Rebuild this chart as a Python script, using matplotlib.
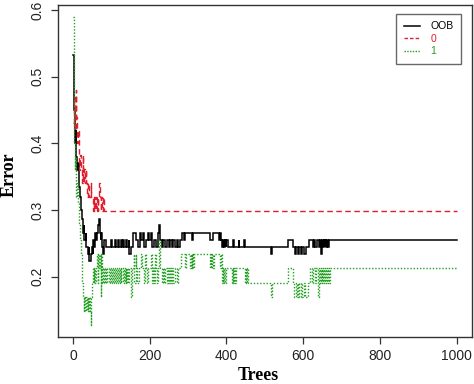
import matplotlib
matplotlib.use("Agg")
import matplotlib.pyplot as plt
from matplotlib.lines import Line2D

# ---- data: step runs (tree where a level starts, error level) ----
oob_trees = [1, 2, 3, 5, 7, 9, 11, 13, 15, 18, 21, 23, 25, 28, 30, 33, 35, 38, 41, 43,
             46, 49, 51, 53, 56, 58, 61, 63, 65, 68, 70, 72, 74, 76, 78, 80, 85, 100, 103, 110,
             112, 118, 120, 125, 127, 131, 133, 137, 140, 145, 147, 152, 157, 165, 170, 175, 178, 182, 186, 190,
             195, 198, 203, 207, 212, 217, 222, 225, 228, 232, 235, 240, 244, 250, 254, 258, 262, 265, 270, 275,
             279, 283, 290, 292, 300, 302, 310, 314, 357, 366, 380, 383, 386, 389, 391, 393, 395, 398, 400, 403,
             418, 421, 432, 434, 447, 449, 515, 519, 560, 573, 578, 581, 586, 590, 594, 598, 603, 608, 616, 625,
             628, 632, 636, 640, 643, 647, 649, 652, 654, 656, 658, 660, 662, 664, 667, 1000]
oob_err = [0.532, 0.50, 0.45, 0.40, 0.42, 0.38, 0.36, 0.37, 0.335, 0.32, 0.30, 0.287, 0.266, 0.277, 0.255, 0.266, 0.245, 0.234, 0.245, 0.223,
           0.234, 0.245, 0.234, 0.255, 0.245, 0.266, 0.255, 0.266, 0.277, 0.287, 0.266, 0.255, 0.266, 0.245, 0.234, 0.255, 0.245, 0.255, 0.245, 0.255,
           0.245, 0.255, 0.245, 0.255, 0.245, 0.255, 0.245, 0.255, 0.245, 0.255, 0.234, 0.245, 0.266, 0.255, 0.245, 0.266, 0.255, 0.266, 0.245, 0.255,
           0.266, 0.255, 0.266, 0.245, 0.255, 0.245, 0.266, 0.277, 0.255, 0.245, 0.255, 0.245, 0.255, 0.245, 0.255, 0.245, 0.255, 0.245, 0.255, 0.245,
           0.255, 0.266, 0.255, 0.266, 0.266, 0.266, 0.255, 0.266, 0.255, 0.266, 0.255, 0.266, 0.255, 0.245, 0.255, 0.245, 0.255, 0.245, 0.255, 0.245,
           0.255, 0.245, 0.255, 0.245, 0.255, 0.245, 0.234, 0.245, 0.255, 0.245, 0.234, 0.245, 0.234, 0.245, 0.234, 0.245, 0.234, 0.245, 0.255, 0.245,
           0.255, 0.245, 0.255, 0.245, 0.255, 0.234, 0.255, 0.245, 0.255, 0.245, 0.255, 0.245, 0.255, 0.245, 0.255, 0.255]

c0_trees = [1, 3, 5, 7, 9, 11, 13, 15, 17, 19, 21, 23, 25, 27, 29, 31, 33, 35, 37, 40,
            43, 46, 48, 52, 54, 56, 58, 60, 62, 64, 66, 68, 70, 72, 74, 76, 78, 80, 1000]
c0_err = [0.43, 0.47, 0.42, 0.48, 0.44, 0.40, 0.42, 0.38, 0.36, 0.383, 0.362, 0.34, 0.383, 0.34, 0.362, 0.34, 0.362, 0.34, 0.319, 0.34,
          0.319, 0.34, 0.319, 0.298, 0.319, 0.298, 0.319, 0.298, 0.319, 0.298, 0.319, 0.340, 0.319, 0.298, 0.319, 0.298, 0.319, 0.298, 0.298]

c1_trees = [1, 2, 3, 4, 5, 6, 7, 9, 11, 13, 15, 17, 19, 21, 23, 24, 26, 28, 30, 32,
            34, 36, 38, 40, 42, 44, 46, 48, 50, 52, 54, 56, 58, 60, 62, 64, 66, 68, 70, 72,
            74, 76, 78, 80, 83, 86, 88, 95, 97, 100, 102, 105, 107, 110, 112, 116, 118, 120, 122, 124,
            126, 130, 132, 135, 137, 139, 141, 143, 145, 150, 155, 158, 160, 163, 165, 168, 171, 178, 180, 185,
            188, 190, 193, 196, 203, 205, 208, 211, 214, 216, 219, 222, 225, 228, 232, 235, 238, 241, 244, 247,
            250, 253, 256, 259, 262, 265, 270, 273, 282, 293, 295, 305, 307, 309, 311, 313, 316, 357, 359, 361,
            363, 365, 368, 383, 385, 388, 390, 392, 394, 396, 398, 414, 416, 418, 420, 422, 424, 448, 450, 452,
            454, 456, 515, 519, 560, 573, 576, 580, 583, 587, 590, 594, 597, 603, 606, 612, 618, 622, 626, 630,
            634, 638, 641, 644, 646, 648, 650, 652, 655, 657, 660, 662, 664, 667, 669, 1000]
c1_err = [0.59, 0.52, 0.45, 0.40, 0.36, 0.38, 0.34, 0.32, 0.34, 0.31, 0.30, 0.28, 0.255, 0.234, 0.213, 0.191, 0.170, 0.149, 0.170, 0.149,
          0.170, 0.149, 0.170, 0.149, 0.170, 0.149, 0.128, 0.170, 0.191, 0.213, 0.191, 0.213, 0.191, 0.213, 0.234, 0.191, 0.234, 0.213, 0.234, 0.170,
          0.234, 0.191, 0.213, 0.191, 0.213, 0.191, 0.213, 0.191, 0.213, 0.191, 0.213, 0.191, 0.213, 0.191, 0.213, 0.191, 0.213, 0.191, 0.213, 0.191,
          0.213, 0.191, 0.213, 0.191, 0.213, 0.191, 0.213, 0.191, 0.213, 0.170, 0.213, 0.234, 0.191, 0.234, 0.213, 0.191, 0.213, 0.234, 0.213, 0.191,
          0.234, 0.213, 0.191, 0.213, 0.234, 0.191, 0.213, 0.191, 0.234, 0.213, 0.191, 0.213, 0.255, 0.213, 0.191, 0.213, 0.191, 0.213, 0.191, 0.213,
          0.191, 0.213, 0.191, 0.213, 0.191, 0.213, 0.191, 0.213, 0.234, 0.213, 0.234, 0.213, 0.234, 0.213, 0.234, 0.213, 0.234, 0.213, 0.234, 0.213,
          0.234, 0.213, 0.234, 0.213, 0.234, 0.191, 0.213, 0.191, 0.213, 0.191, 0.213, 0.191, 0.213, 0.191, 0.213, 0.191, 0.213, 0.191, 0.213, 0.191,
          0.213, 0.191, 0.170, 0.191, 0.213, 0.191, 0.170, 0.191, 0.170, 0.191, 0.170, 0.191, 0.170, 0.191, 0.170, 0.191, 0.213, 0.191, 0.213, 0.191,
          0.213, 0.170, 0.213, 0.191, 0.213, 0.191, 0.213, 0.191, 0.213, 0.191, 0.213, 0.191, 0.213, 0.191, 0.213, 0.213]

series_labels = ["OOB", "0", "1"]
x_ticks = [0, 200, 400, 600, 800, 1000]
y_ticks = [0.2, 0.3, 0.4, 0.5, 0.6]

# ---- figure ----
W, H = 474, 384
fig = plt.figure(figsize=(W / 100, H / 100), dpi=100)
L, R, T, B = 58, 472, 5, 337
ax = fig.add_axes([L / W, (H - B) / H, (R - L) / W, (B - T) / H])

black, red, green = "#000000", "#DF1F2F", "#22A022"
ax.step(oob_trees, oob_err, where="post", color=black, lw=1.1, solid_joinstyle="miter")
ax.step(c0_trees, c0_err, where="post", color=red, lw=1.0, linestyle=(0, (4.0, 2.5)))
ax.step(c1_trees, c1_err, where="post", color=green, lw=1.0, linestyle=(0, (1.0, 1.3)))

ax.set_xlim(-39, 1040)
ax.set_ylim(0.1095, 0.6075)
ax.set_xticks(x_ticks)
ax.set_xticklabels([str(v) for v in x_ticks])
ax.set_yticks(y_ticks)
ax.set_yticklabels([f"{v:.1f}" for v in y_ticks], rotation=90, va="center")

for s in ax.spines.values():
    s.set_color("#333333")
    s.set_linewidth(1.0)
ax.tick_params(axis="both", direction="out", length=5, width=0.9, color="#333333",
               labelsize=10, labelcolor="#222222")
ax.tick_params(axis="x", pad=4)
ax.tick_params(axis="y", pad=5)
for lab in ax.get_xticklabels() + ax.get_yticklabels():
    lab.set_fontfamily("Liberation Sans")

fig.text(258 / W, (H - 375) / H, "Trees", ha="center", va="center",
         fontfamily="Liberation Serif", fontweight="bold", fontsize=13)
fig.text(9 / W, (H - 175) / H, "Error", ha="center", va="center", rotation=90,
         fontfamily="Liberation Serif", fontweight="bold", fontsize=13)

handles = [Line2D([], [], color=black, lw=1.1),
           Line2D([], [], color=red, lw=1.0, linestyle=(0, (2.5, 1.5))),
           Line2D([], [], color=green, lw=1.0, linestyle=(0, (1.0, 1.0)))]
leg = ax.legend(handles, series_labels, loc="upper right", bbox_to_anchor=((461 - L) / (R - L), 1 - (14 - T) / (B - T)),
                borderaxespad=0, fancybox=False, frameon=True, prop={"family": "Liberation Sans", "size": 7.5},
                handlelength=1.6, handletextpad=1.0, labelspacing=0.25, borderpad=0.7,
                labelcolor=[black, red, green])
leg.get_frame().set_edgecolor("#444444")
leg.get_frame().set_linewidth(1.0)

fig.savefig("out.png", dpi=100)
